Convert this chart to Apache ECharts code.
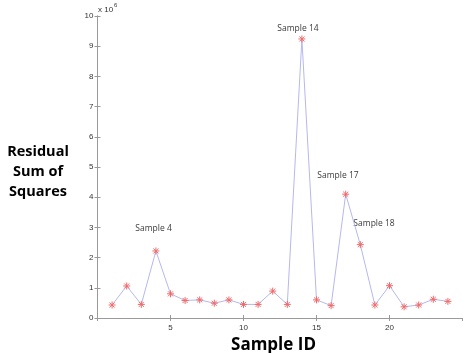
<!DOCTYPE html>
<html>
<head>
<meta charset="utf-8">
<script src="https://cdn.jsdelivr.net/npm/echarts@6/dist/echarts.min.js"></script>
<style>
  html, body { margin: 0; padding: 0; background: #fff; }
  #chart { width: 474px; height: 353px; }
</style>
</head>
<body>
<div id="chart"></div>
<script>
// sample ids and residual sum of squares (x 10^6)
const sampleIds = [1, 2, 3, 4, 5, 6, 7, 8, 9, 10, 11, 12, 13, 14, 15, 16, 17, 18, 19, 20, 21, 22, 23, 24];
const rss = [0.43, 1.06, 0.45, 2.22, 0.8, 0.58, 0.6, 0.49, 0.6, 0.45, 0.45, 0.89,
             0.45, 9.24, 0.6, 0.41, 4.1, 2.43, 0.43, 1.07, 0.37, 0.43, 0.62, 0.55];

// annotation texts and where they sit (data coords)
const noteNames = ["Sample 4", "Sample 14", "Sample 17", "Sample 18"];
const noteX = [3.84, 13.73, 16.47, 18.94];
const noteY = [2.95, 9.58, 4.71, 3.11];

const chart = echarts.init(document.getElementById("chart"));

const axisGray = "#9a9a9a";
const tickFont = { color: "#333", fontSize: 8, fontFamily: "Liberation Sans" };

// MATLAB-like asterisk marker
const star = "path://M0,-5L0,5M-5,0L5,0M-3.6,-3.6L3.6,3.6M-3.6,3.6L3.6,-3.6";

const option = {
  animation: false,
  grid: { left: 97.5, right: 11.5, top: 16, bottom: 35, outerBoundsMode: "none", containLabel: false },
  xAxis: [
    {
      type: "value",
      min: 0,
      max: 25,
      interval: 5,
      axisLine: { lineStyle: { color: axisGray } },
      axisTick: { inside: true, length: 3, lineStyle: { color: axisGray } },
      splitLine: { show: false },
      axisLabel: Object.assign({ showMinLabel: false, showMaxLabel: false, margin: 6 }, tickFont),
      name: "Sample ID",
      nameLocation: "middle",
      nameGap: 11,
      nameTextStyle: { fontSize: 17, fontWeight: "bold", color: "#000", fontFamily: "Open Sans", padding: [0, 0, 0, -13] }
    },
    {
      type: "value",
      position: "top",
      min: 0,
      max: 25,
      interval: 5,
      axisLine: { show: true, lineStyle: { color: axisGray } },
      axisTick: { show: true, inside: true, length: 3, lineStyle: { color: axisGray } },
      axisLabel: { show: false },
      splitLine: { show: false }
    }
  ],
  yAxis: [
    {
      type: "value",
      min: 0,
      max: 10,
      interval: 1,
      axisLine: { show: true, lineStyle: { color: axisGray } },
      axisTick: { show: true, inside: true, length: 3, lineStyle: { color: axisGray } },
      axisLabel: Object.assign({ margin: 4 }, tickFont),
      splitLine: { show: false }
    },
    {
      type: "value",
      position: "right",
      min: 0,
      max: 10,
      interval: 1,
      axisLine: { show: true, lineStyle: { color: axisGray } },
      axisTick: { show: true, inside: true, length: 3, lineStyle: { color: axisGray } },
      axisLabel: { show: false },
      splitLine: { show: false }
    }
  ],
  graphic: [
    {
      type: "text",
      x: 98,
      y: 6,
      style: { text: "x 10", fontSize: 8, fill: "#333", fontFamily: "Liberation Sans" }
    },
    {
      type: "text",
      x: 114,
      y: 2,
      style: { text: "6", fontSize: 6, fill: "#333", fontFamily: "Liberation Sans" }
    },
    {
      type: "text",
      x: 38,
      y: 142,
      style: {
        text: "Residual\nSum of\nSquares",
        fontSize: 14.5,
        fontWeight: "bold",
        lineHeight: 20,
        fill: "#000",
        align: "center",
        fontFamily: "Open Sans"
      }
    }
  ],
  series: [
    {
      type: "line",
      data: sampleIds.map((id, i) => [id, rss[i]]),
      lineStyle: { color: "#b4b8ee", width: 1 },
      symbol: star,
      symbolSize: 7,
      showAllSymbol: true,
      itemStyle: { color: "none", borderColor: "#f06a6a", borderWidth: 1 },
      z: 3
    },
    {
      type: "scatter",
      data: noteNames.map((n, i) => ({ name: n, value: [noteX[i], noteY[i]] })),
      symbolSize: 0,
      silent: true,
      label: {
        show: true,
        position: "inside",
        formatter: "{b}",
        color: "#000",
        fontSize: 8.5,
        fontFamily: "Open Sans"
      }
    }
  ]
};

chart.setOption(option);
</script>
</body>
</html>
